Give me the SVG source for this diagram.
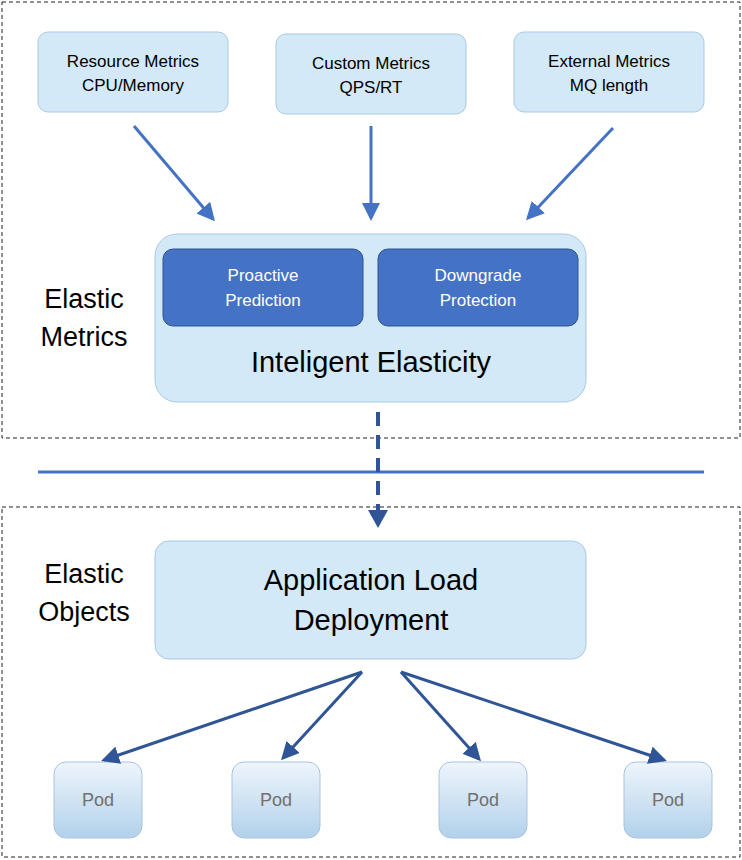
<svg xmlns="http://www.w3.org/2000/svg" width="742" height="860" viewBox="0 0 742 860">
<style>
text{font-family:"Liberation Sans",Arial,sans-serif;text-anchor:middle}
.lb{fill:#d3e9f7;stroke:#a9c9e4;stroke-width:1}
.db{fill:#4472c4;stroke:#2f528f;stroke-width:1}
.frame{fill:none;stroke:#222;stroke-width:1;stroke-dasharray:4 3}
.ar{stroke:#2f5597;stroke-width:3;fill:none;marker-end:url(#ah)}
</style>
<defs>
<marker id="ah" markerWidth="6" markerHeight="6" refX="5" refY="3" orient="auto" markerUnits="strokeWidth"><path d="M0,0L6,3L0,6z" fill="#2f5597"/></marker>
<marker id="ah2" markerWidth="7" markerHeight="6" refX="5" refY="3" orient="auto" markerUnits="strokeWidth"><path d="M0,0L6,3L0,6z" fill="#4472c4"/></marker>
<linearGradient id="pg" x1="0" y1="0" x2="0" y2="1"><stop offset="0" stop-color="#eef5fc"/><stop offset="1" stop-color="#b2d1ea"/></linearGradient>
</defs>
<rect class="frame" x="2" y="2" width="738" height="436"/>
<rect class="frame" x="2" y="507" width="738" height="350"/>
<g id="labels">
<text x="84" y="308" font-size="27">Elastic</text>
<text x="84" y="346" font-size="27">Metrics</text>
<text x="84" y="583" font-size="27">Elastic</text>
<text x="84" y="621" font-size="27">Objects</text>
</g>
<g id="resource"><rect class="lb" x="38" y="32" width="190" height="80" rx="10"/><text x="133" y="67" font-size="17">Resource Metrics</text><text x="133" y="91" font-size="17">CPU/Memory</text></g>
<g id="custom"><rect class="lb" x="276" y="34" width="190" height="80" rx="10"/><text x="371" y="69" font-size="17">Custom Metrics</text><text x="371" y="93" font-size="17">QPS/RT</text></g>
<g id="external"><rect class="lb" x="514" y="32" width="190" height="80" rx="10"/><text x="609" y="67" font-size="17">External Metrics</text><text x="609" y="91" font-size="17">MQ length</text></g>
<g id="elasticity"><rect class="lb" x="155" y="234" width="431" height="168" rx="22"/><text x="371" y="372" font-size="29">Inteligent Elasticity</text></g>
<g id="proactive"><rect class="db" x="163" y="249" width="200" height="77" rx="10"/><text x="263" y="281" font-size="17" fill="#fff">Proactive</text><text x="263" y="306" font-size="17" fill="#fff">Prediction</text></g>
<g id="downgrade"><rect class="db" x="378" y="249" width="200" height="77" rx="10"/><text x="478" y="281" font-size="17" fill="#fff">Downgrade</text><text x="478" y="306" font-size="17" fill="#fff">Protection</text></g>
<g id="app"><rect class="lb" x="155" y="541" width="431" height="118" rx="14"/><text x="371" y="590" font-size="29">Application Load</text><text x="371" y="630" font-size="29">Deployment</text></g>
<g id="pod1"><rect x="54" y="762" width="88" height="76" rx="12" fill="url(#pg)" stroke="#a9c4e0"/><text x="98" y="806" font-size="18" fill="#707070">Pod</text></g>
<g id="pod2"><rect x="232" y="762" width="88" height="76" rx="12" fill="url(#pg)" stroke="#a9c4e0"/><text x="276" y="806" font-size="18" fill="#707070">Pod</text></g>
<g id="pod3"><rect x="439" y="762" width="88" height="76" rx="12" fill="url(#pg)" stroke="#a9c4e0"/><text x="483" y="806" font-size="18" fill="#707070">Pod</text></g>
<g id="pod4"><rect x="624" y="762" width="88" height="76" rx="12" fill="url(#pg)" stroke="#a9c4e0"/><text x="668" y="806" font-size="18" fill="#707070">Pod</text></g>
<g id="connectors">
<line x1="38" y1="472" x2="704" y2="472" stroke="#4472c4" stroke-width="3"/>
<line x1="134" y1="126" x2="213" y2="219" stroke="#4472c4" stroke-width="3" marker-end="url(#ah2)"/>
<line x1="371" y1="126" x2="371" y2="218" stroke="#4472c4" stroke-width="3" marker-end="url(#ah2)"/>
<line x1="613" y1="128" x2="528" y2="218" stroke="#4472c4" stroke-width="3" marker-end="url(#ah2)"/>
<line x1="378" y1="412" x2="378" y2="512" stroke="#2f5597" stroke-width="4" stroke-dasharray="14 9"/>
<path d="M368,510L388,510L378,528z" fill="#2f5597"/>
<line class="ar" x1="362" y1="672" x2="104" y2="760"/>
<line class="ar" x1="362" y1="672" x2="283" y2="758"/>
<line class="ar" x1="401" y1="672" x2="479" y2="759"/>
<line class="ar" x1="401" y1="672" x2="664" y2="760"/>
</g>
</svg>
